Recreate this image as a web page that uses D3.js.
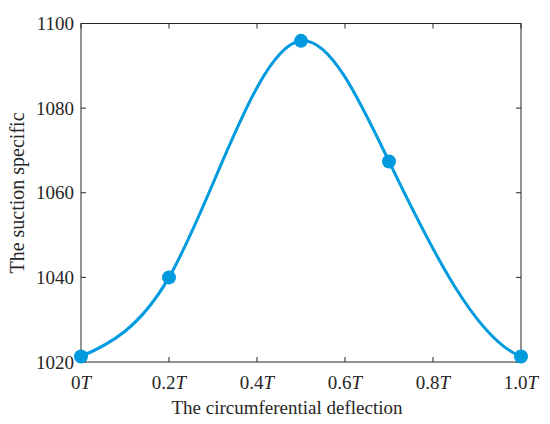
<!DOCTYPE html>
<html>
<head>
<meta charset="utf-8">
<script src="https://cdn.jsdelivr.net/npm/d3@7"></script>
<style>
  html, body { margin: 0; padding: 0; background: #fff; }
  svg { display: block; }
  text { font-family: "Liberation Serif", "Times New Roman", serif; fill: #262626; }
</style>
</head>
<body>
<svg id="chart" width="550" height="424"></svg>
<script>
const xValues = [0, 0.2, 0.5, 0.7, 1.0];
const yValues = [1021.3, 1040, 1095.9, 1067.4, 1021.3];
const xTicks = [0, 0.2, 0.4, 0.6, 0.8, 1.0];
const xTickLabels = ["0", "0.2", "0.4", "0.6", "0.8", "1.0"];
const yTicks = [1020, 1040, 1060, 1080, 1100];
const xTitle = "The circumferential deflection";
const yTitle = "The suction specific";

const W = 550, H = 424;
const m = { left: 81, right: 29, top: 23.5, bottom: 62 };
const svg = d3.select("#chart");
const x = d3.scaleLinear().domain([0, 1]).range([m.left, W - m.right]);
const y = d3.scaleLinear().domain([1020, 1100]).range([H - m.bottom, m.top]);
const axisColor = "#262626";
const fs = 19;

// ticks (inward)
const tl = 5;
const g = svg.append("g");
xTicks.forEach(t => {
  g.append("line").attr("x1", x(t)).attr("x2", x(t)).attr("y1", y(1020)).attr("y2", y(1020) - tl)
    .attr("stroke", axisColor).attr("stroke-width", 1);
  g.append("line").attr("x1", x(t)).attr("x2", x(t)).attr("y1", y(1100)).attr("y2", y(1100) + tl)
    .attr("stroke", axisColor).attr("stroke-width", 1);
});
yTicks.forEach(t => {
  g.append("line").attr("x1", x(0)).attr("x2", x(0) + tl).attr("y1", y(t)).attr("y2", y(t))
    .attr("stroke", axisColor).attr("stroke-width", 1);
  g.append("line").attr("x1", x(1)).attr("x2", x(1) - tl).attr("y1", y(t)).attr("y2", y(t))
    .attr("stroke", axisColor).attr("stroke-width", 1);
});
svg.append("rect").attr("x", x(0)).attr("y", y(1100)).attr("width", x(1) - x(0)).attr("height", y(1020) - y(1100))
  .attr("fill", "none").attr("stroke", axisColor).attr("stroke-width", 1);

// tick labels
xTicks.forEach((t, i) => {
  const tx = svg.append("text").attr("x", x(t)).attr("y", y(1020) + 27).attr("text-anchor", "middle")
    .attr("font-size", fs);
  tx.append("tspan").text(xTickLabels[i]);
  tx.append("tspan").attr("font-style", "italic").text("T");
});
yTicks.forEach(t => {
  svg.append("text").attr("x", x(0) - 7).attr("y", y(t)).attr("dy", "0.35em").attr("text-anchor", "end")
    .attr("font-size", fs).text(t);
});

svg.append("text").attr("x", 287).attr("y", 414).attr("text-anchor", "middle").attr("font-size", fs).text(xTitle);
svg.append("text").attr("transform", "translate(24,193) rotate(-90)").attr("text-anchor", "middle")
  .attr("font-size", 20).text(yTitle);

// clamped cubic spline through the data (smooth line rendering)
function clampedTangents(xs, ys, s0, sN) {
  const n = xs.length;
  const h = [], d = [];
  for (let i = 0; i < n - 1; i++) { h.push(xs[i + 1] - xs[i]); d.push((ys[i + 1] - ys[i]) / h[i]); }
  const mt = new Array(n).fill(0);
  mt[0] = s0; mt[n - 1] = sN;
  const a = [], b = [], c = [], r = [];
  for (let i = 1; i < n - 1; i++) {
    a.push(h[i]); b.push(2 * (h[i - 1] + h[i])); c.push(h[i - 1]);
    r.push(3 * (h[i] * d[i - 1] + h[i - 1] * d[i]));
  }
  const k = r.length;
  r[0] -= a[0] * s0; r[k - 1] -= c[k - 1] * sN;
  for (let i = 1; i < k; i++) {
    const w = a[i] / b[i - 1];
    b[i] -= w * c[i - 1]; r[i] -= w * r[i - 1];
  }
  const sol = new Array(k);
  sol[k - 1] = r[k - 1] / b[k - 1];
  for (let i = k - 2; i >= 0; i--) sol[i] = (r[i] - c[i] * sol[i + 1]) / b[i];
  for (let i = 0; i < k; i++) mt[i + 1] = sol[i];
  return mt;
}
const tang = clampedTangents(xValues, yValues, 45, -40);
const p = d3.path();
p.moveTo(x(xValues[0]), y(yValues[0]));
for (let i = 0; i < xValues.length - 1; i++) {
  const hh = xValues[i + 1] - xValues[i];
  p.bezierCurveTo(
    x(xValues[i] + hh / 3), y(yValues[i] + tang[i] * hh / 3),
    x(xValues[i + 1] - hh / 3), y(yValues[i + 1] - tang[i + 1] * hh / 3),
    x(xValues[i + 1]), y(yValues[i + 1]));
}
const color = "#009ade";
svg.append("path").attr("d", p.toString()).attr("fill", "none").attr("stroke", color).attr("stroke-width", 3);
const data = xValues.map((v, i) => [v, yValues[i]]);
svg.selectAll("circle.pt").data(data).enter().append("circle").attr("class", "pt")
  .attr("cx", d => x(d[0])).attr("cy", d => y(d[1])).attr("r", 7).attr("fill", color);
</script>
</body>
</html>
